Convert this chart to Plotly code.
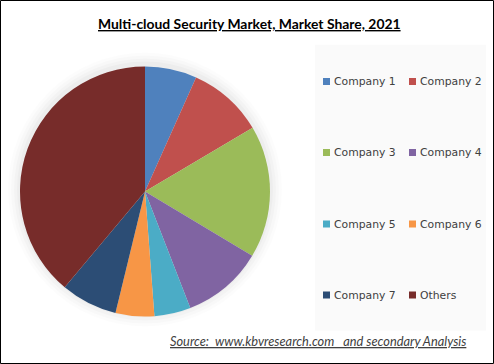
import plotly.graph_objects as go

categories = ["Company 1", "Company 2", "Company 3", "Company 4",
              "Company 5", "Company 6", "Company 7", "Others"]
shares = [6.7, 9.8, 17.1, 10.5, 4.7, 5.0, 7.3, 38.9]
colors = ["#4F81BD", "#C0504D", "#9BBB59", "#8064A2",
          "#4BACC6", "#F79646", "#2C4D75", "#772C2A"]

W, H = 494, 364
title_text = "Multi-cloud Security Market, Market Share, 2021"
source_text = "Source:  www.kbvresearch.com   and secondary Analysis"

cx, cy, r = 145, 191.5, 125

fig = go.Figure()
fig.add_trace(go.Pie(
    labels=categories, values=shares, sort=False, direction="clockwise",
    rotation=0, marker=dict(colors=colors, line=dict(width=0)),
    textinfo="none", hoverinfo="label+percent", showlegend=False,
    domain=dict(x=[(cx - r) / W, (cx + r) / W], y=[(H - cy - r) / H, (H - cy + r) / H]),
))

shapes = []
# soft shadow around pie
for d, op in [(12, 0.012), (9, 0.015), (6, 0.02), (3, 0.025)]:
    shapes.append(dict(type="circle", xref="paper", yref="paper", layer="below",
                       x0=(cx - r - d) / W, x1=(cx + r + d) / W,
                       y0=(H - cy - r - d + 2) / H, y1=(H - cy + r + d + 2) / H,
                       fillcolor=f"rgba(0,0,0,{op})", line=dict(width=0)))
# legend background
shapes.append(dict(type="rect", xref="paper", yref="paper", layer="below",
                   x0=315 / W, x1=486 / W, y0=(H - 330.5) / H, y1=(H - 44.7) / H,
                   fillcolor="#FAFAFA", line=dict(width=0)))
# outer border
shapes.append(dict(type="rect", xref="paper", yref="paper",
                   x0=0.5 / W, x1=(W - 0.5) / W, y0=0.5 / H, y1=(H - 0.5) / H,
                   line=dict(color="#000000", width=1)))

annotations = [
    dict(text="<b><u>" + title_text + "</u></b>", x=249 / W, y=(H - 24) / H,
         xref="paper", yref="paper", showarrow=False, xanchor="center", yanchor="middle",
         font=dict(family="Lato", size=13.9, color="#000000")),
    dict(text="<i><u>" + source_text + "</u></i>", x=468 / W, y=(H - 341) / H,
         xref="paper", yref="paper", showarrow=False, xanchor="right", yanchor="middle",
         font=dict(family="Lato", size=12.8, color="#404040")),
]

col_x = [323, 409]
row_y = [81.5, 152.5, 224, 295]
for i, (name, col) in enumerate(zip(categories, colors)):
    x = col_x[i % 2]
    y = row_y[i // 2]
    shapes.append(dict(type="rect", xref="paper", yref="paper",
                       x0=x / W, x1=(x + 7) / W, y0=(H - y - 3.5) / H, y1=(H - y + 3.5) / H,
                       fillcolor=col, line=dict(width=0)))
    annotations.append(dict(text=name, x=(x + 9) / W, y=(H - y) / H,
                            xref="paper", yref="paper", showarrow=False,
                            xanchor="left", yanchor="middle",
                            font=dict(family="DejaVu Sans", size=10.8, color="#404040")))

fig.update_layout(
    width=W, height=H, margin=dict(l=0, r=0, t=0, b=0),
    paper_bgcolor="#FFFFFF", plot_bgcolor="#FFFFFF",
    shapes=shapes, annotations=annotations, showlegend=False,
)

fig.write_html("out.html", config={"displayModeBar": False},
               post_script="document.body.style.margin='0';document.body.style.overflow='hidden';")
